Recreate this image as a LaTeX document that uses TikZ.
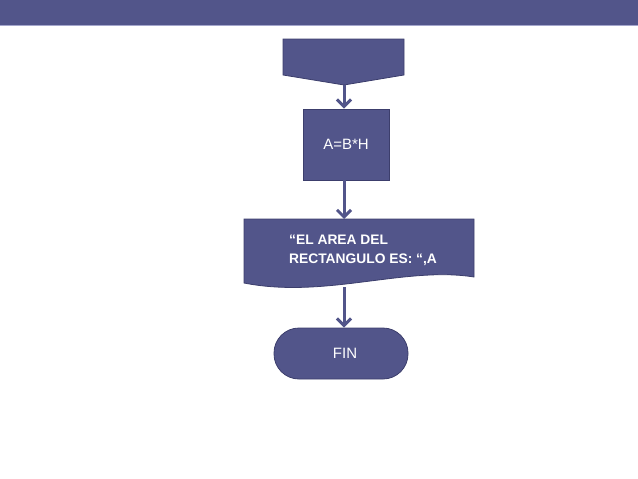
\documentclass[tikz,border=0pt]{standalone}
\usepackage{fontspec}
\setmainfont{Liberation Sans}
\usetikzlibrary{arrows.meta,calc}

\definecolor{azul}{HTML}{52558A}
\definecolor{azul borde}{HTML}{3C3E6C}
\definecolor{azul claro}{HTML}{A4A6CC}
\def\conector{(283,39) -- (404,39) -- (404,75) -- (344,85) -- (283,75) -- cycle}
\def\documento{(244,219) -- (474,219) -- (474,277) .. controls (405,266) and (325,299) .. (244,283) -- cycle}
\tikzset{filled/.style={fill=azul, draw=azul borde, line width=0.8pt},
    proceso/.style={filled, minimum width=86pt, minimum height=71pt, inner sep=0pt,
      text=white, font=\fontsize{15}{18}\selectfont},
    terminal/.style={filled, rounded corners=25pt, minimum width=134pt, minimum height=51pt,
      inner sep=0pt, text=white, font=\fontsize{15}{18}\selectfont},
    flecha/.style={draw=azul, line width=3pt, -{Straight Barb[length=7pt,width=14pt,line width=3pt]}}}

\begin{document}
\begin{tikzpicture}[x=1pt,y=-1pt]
    \useasboundingbox (0,0) rectangle (638,479);
    % franja superior
    \fill[azul] (0,0) rectangle (638,25);
    \draw[azul claro, line width=1pt] (0,25.5) -- (638,25.5);
    % conector de pagina
    \draw[filled] \conector;
    \coordinate (con) at (344,85);
    \node[proceso] (proc) at (346,144.5) {A=B*H};
    % documento
    \draw[filled] \documento;
    \coordinate (docin) at (344,219);
    \coordinate (docout) at (344,287);
    \node[anchor=base west, align=left, inner sep=0pt, text=white,
      font=\bfseries\fontsize{13.8}{19}\selectfont] (textodoc) at (289,263)
      {“EL AREA DEL\\RECTANGULO ES: “,A};
    \node[terminal] (fin) at (341,353.5) {\hspace{8pt}FIN};
    % flechas
    \draw[flecha] (con) -- (con |- proc.north);
    \draw[flecha] (con |- proc.south) -- (docin);
    \draw[flecha] (docout) -- (docout |- fin.north);
  \end{tikzpicture}
\end{document}
